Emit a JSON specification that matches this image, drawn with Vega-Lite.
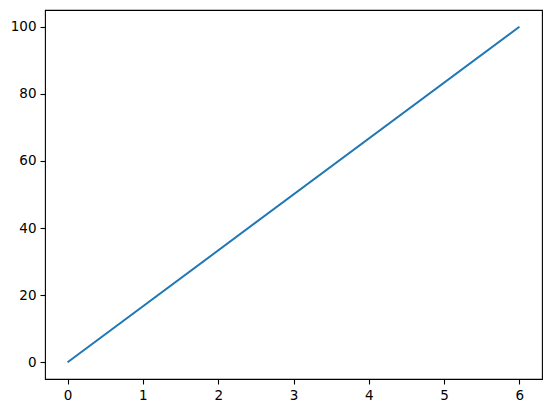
{
  "$schema": "https://vega.github.io/schema/vega-lite/v6.json",
  "width": 497,
  "height": 369,
  "autosize": {"type": "none"},
  "padding": {"left": 45, "top": 10, "right": 10, "bottom": 34},
  "background": "white",
  "data": {
    "values": [
      {"x": 0, "y": 0},
      {"x": 6, "y": 100}
    ]
  },
  "mark": {"type": "line", "color": "#1f77b4", "strokeWidth": 2, "clip": true},
  "encoding": {
    "x": {
      "field": "x",
      "type": "quantitative",
      "title": null,
      "scale": {"domain": [-0.3, 6.3], "nice": false, "zero": false},
      "axis": {"values": [0, 1, 2, 3, 4, 5, 6]}
    },
    "y": {
      "field": "y",
      "type": "quantitative",
      "title": null,
      "scale": {"domain": [-5, 105], "nice": false, "zero": false},
      "axis": {"values": [0, 20, 40, 60, 80, 100]}
    }
  },
  "config": {
    "font": "DejaVu Sans",
    "view": {"stroke": "black", "strokeWidth": 1.1},
    "axis": {
      "grid": false,
      "domain": false,
      "ticks": true,
      "tickSize": 5,
      "tickWidth": 1.1,
      "tickColor": "black",
      "labelFont": "DejaVu Sans",
      "labelFontSize": 13.5,
      "labelColor": "black",
      "labelPadding": 4,
      "labelFlush": false,
      "labelOverlap": false
    }
  }
}
